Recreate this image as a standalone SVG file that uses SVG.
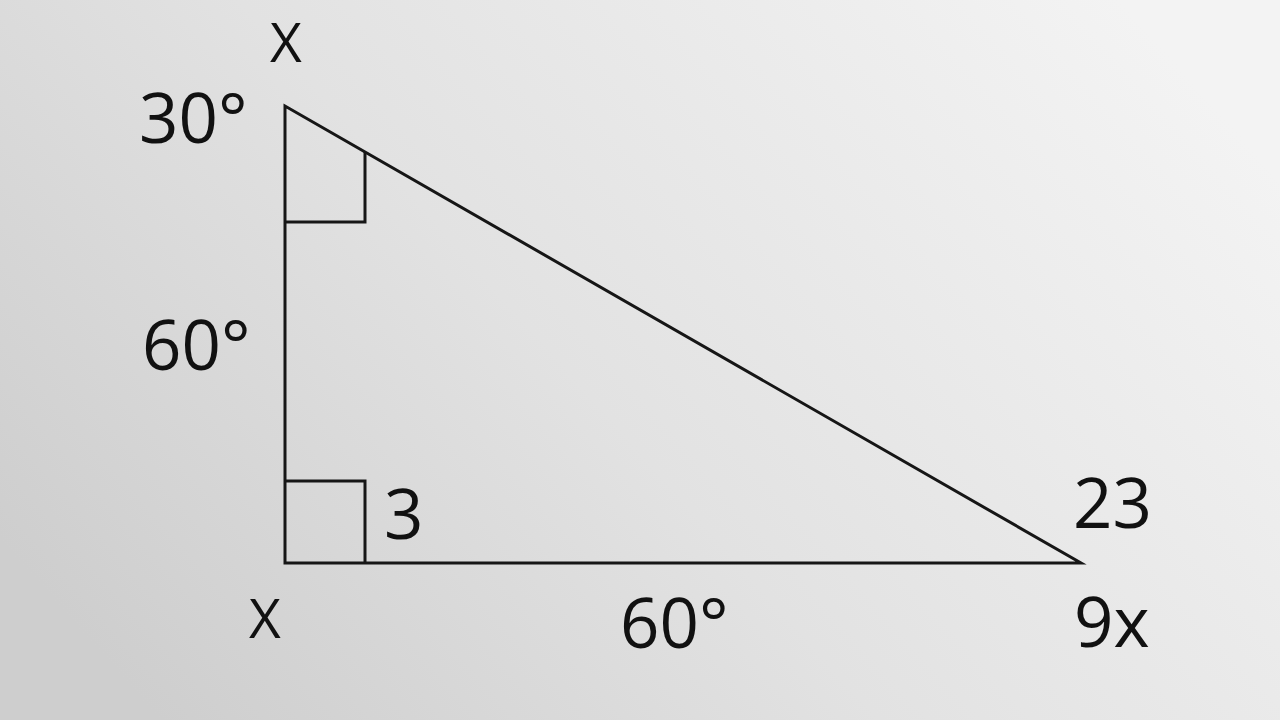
<svg xmlns="http://www.w3.org/2000/svg" width="1280" height="720" viewBox="0 0 1280 720">
  <defs>
    <linearGradient id="bg" x1="0" y1="0.75" x2="1" y2="0.25">
      <stop offset="0" stop-color="#cecece"/>
      <stop offset="0.45" stop-color="#e2e2e2"/>
      <stop offset="1" stop-color="#f3f3f3"/>
    </linearGradient>
    <style>
      .ln { fill: none; stroke: #161616; stroke-width: 3; stroke-linejoin: miter; }
      .lb { font-family: "Open Sans", "Noto Sans", sans-serif; font-size: 69px; fill: #111111; }
      .xl { font-family: "Open Sans", "Noto Sans", sans-serif; font-size: 55px; fill: #111111; text-anchor: middle; }
    </style>
  </defs>
  <rect x="0" y="0" width="1280" height="720" fill="url(#bg)"/>
  <g id="triangle">
    <polygon class="ln" points="285,106 285,563 1081,563"/>
  </g>
  <g id="right-angle-top">
    <polyline class="ln" points="285,222 365,222 365,152"/>
  </g>
  <g id="right-angle-bottom">
    <polyline class="ln" points="285,481 365,481 365,563"/>
  </g>
  <g id="labels">
    <text class="xl" x="286" y="62">X</text>
    <text class="lb" x="139" y="143">30°</text>
    <text class="lb" x="142" y="370">60°</text>
    <text class="lb" x="384" y="539">3</text>
    <text class="xl" x="265" y="638">X</text>
    <text class="lb" x="620" y="648">60°</text>
    <text class="lb" x="1073" y="528">23</text>
    <text class="lb" x="1074" y="647">9x</text>
  </g>
</svg>
